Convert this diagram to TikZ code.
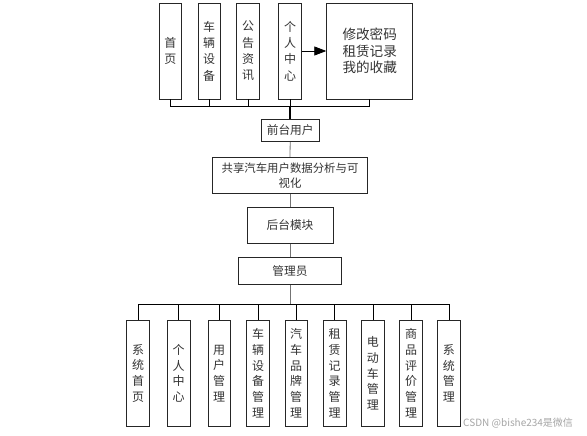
\documentclass[tikz,border=0pt]{standalone}
\usepackage{fontspec}
\setmainfont{Noto Sans CJK SC}
\newfontfamily\cjk{Noto Sans CJK SC}
\usetikzlibrary{arrows.meta}
\tikzset{
  box/.style={draw=black!85, line width=0.8pt, rectangle, inner sep=0pt, align=center,
    font=\cjk\fontsize{11.4}{15}\selectfont, text=black!80},
  vbox/.style={box, minimum width=22.6pt, font=\cjk\fontsize{12}{16}\selectfont},
  topbox/.style={vbox, minimum height=96pt, font=\cjk\fontsize{12}{16.3}\selectfont},
  botbox/.style={vbox, minimum height=106.7pt, font=\cjk\fontsize{12}{15.7}\selectfont},
  bus/.style={draw=black, line width=0.8pt},
  link/.style={draw=black!55, line width=0.8pt},
}
\begin{document}
\begin{tikzpicture}[x=1pt,y=-1pt]
\useasboundingbox[fill=white] (0,0) rectangle (587,436);
% top row
\node[topbox] (t1) at (170.3,51) {首\\页};
\node[topbox] (t2) at (209.2,51) {车\\辆\\设\\备};
\node[topbox] (t3) at (248,51) {公\\告\\资\\讯};
\node[topbox] (t4) at (290,51) {个\\人\\中\\心};
\node[box, minimum width=86pt, minimum height=96pt, font=\cjk\fontsize{13.6}{16.7}\selectfont] (big) at (369.7,51) {修改密码\\租赁记录\\我的收藏};
\draw[bus, -{Triangle[length=12pt,width=9pt]}] (t4.east) -- (big.west);
% top bus
\coordinate (tb) at (290,106.7);
\draw[bus] (t1.south) -- (t1.south |- tb) -- (big.south |- tb) -- (big.south);
\draw[bus] (t2.south) -- (t2.south |- tb);
\draw[bus] (t3.south) -- (t3.south |- tb);
\draw[bus] (t4.south) -- (t4.south |- tb);
% middle chain
\node[box, minimum width=58.3pt, minimum height=22.7pt, font=\cjk\fontsize{11.7}{15}\selectfont] (front) at (290.2,130.3) {前台用户};
\node[box, minimum width=155.4pt, minimum height=36.4pt] (ana) at (290,175.5) {共享汽车用户数据分析与可\\视化};
\node[box, minimum width=86pt, minimum height=36pt, font=\cjk\fontsize{11.7}{15}\selectfont] (back) at (290,225.3) {后台模块};
\node[box, minimum width=102.6pt, minimum height=27.3pt, font=\cjk\fontsize{11.7}{15}\selectfont] (adm) at (290,270.7) {管理员};
\draw[draw=black, line width=1.8pt] (front.north |- tb) -- (front.north);
\draw[link] (front.south) -- (ana.north);
\draw[link] (ana.south) -- (back.north);
\draw[link] (back.south) -- (adm.north);
% bottom row
\node[botbox] (b1) at (138,373.3) {系\\统\\首\\页};
\node[botbox] (b2) at (178.7,373.3) {个\\人\\中\\心};
\node[botbox] (b3) at (219.2,373.3) {用\\户\\管\\理};
\node[botbox] (b4) at (258,373.3) {车\\辆\\设\\备\\管\\理};
\node[botbox] (b5) at (296.2,373.3) {汽\\车\\品\\牌\\管\\理};
\node[botbox] (b6) at (334.7,373.3) {租\\赁\\记\\录\\管\\理};
\node[botbox] (b7) at (372.9,373.3) {电\\动\\车\\管\\理};
\node[botbox] (b8) at (411,373.3) {商\\品\\评\\价\\管\\理};
\node[botbox] (b9) at (448.9,373.3) {系\\统\\管\\理};
\coordinate (bb) at (290,304);
\draw[link] (adm.south) -- (adm.south |- bb);
\draw[bus] (b1.north) -- (b1.north |- bb) -- (b9.north |- bb) -- (b9.north);
\foreach \n in {b2,b3,b4,b5,b6,b7,b8} \draw[bus] (\n.north) -- (\n.north |- bb);
% watermark
\node[anchor=west, inner sep=0pt, text=black!35, font=\cjk\fontsize{10}{12}\selectfont] (wm) at (463,423) {CSDN @bishe234是微信};
\end{tikzpicture}
\end{document}
